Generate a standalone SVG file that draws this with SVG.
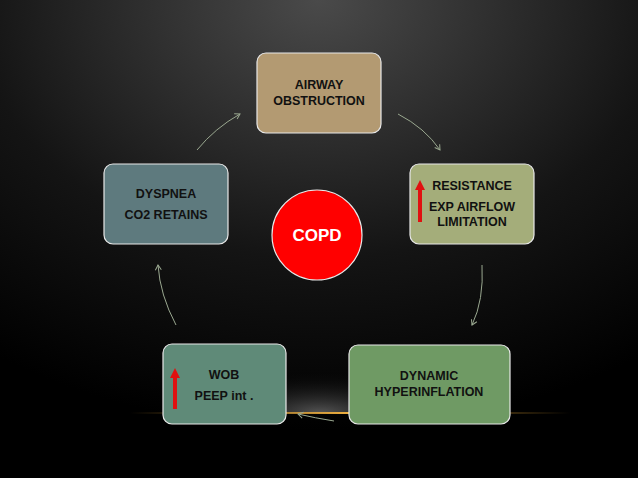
<svg xmlns="http://www.w3.org/2000/svg" width="638" height="478" viewBox="0 0 638 478">
<defs>
<radialGradient id="bg" cx="0.5" cy="0" r="0.9">
<stop offset="0" stop-color="#4a4a4a"/><stop offset="0.6" stop-color="#141414"/><stop offset="1" stop-color="#000"/>
</radialGradient>
<linearGradient id="hl" x1="0" x2="1"><stop offset="0" stop-color="#c8902a" stop-opacity="0"/><stop offset="0.5" stop-color="#f0b040"/><stop offset="1" stop-color="#c8902a" stop-opacity="0"/></linearGradient>
<radialGradient id="glow" cx="0.5" cy="1" r="0.6"><stop offset="0" stop-color="#555"/><stop offset="1" stop-color="#000" stop-opacity="0"/></radialGradient>
<marker id="ah" markerWidth="8" markerHeight="8" refX="6" refY="4" orient="auto" markerUnits="userSpaceOnUse"><path d="M1,1 L6,4 L1,7" fill="none" stroke="#9aa890" stroke-width="1"/></marker>
</defs>
<style>
.n{stroke:#e8e8e8;stroke-width:1.2}
.t{font-family:"Liberation Sans",Arial,sans-serif;font-weight:bold;font-size:12.5px;fill:#111;text-anchor:middle}
.c{fill:none;stroke:#9aa890;stroke-width:1;marker-end:url(#ah)}
.up{fill:#e01010}
</style>
<rect width="638" height="478" fill="url(#bg)"/>
<rect x="200" y="340" width="240" height="73" fill="url(#glow)"/>
<rect x="130" y="412" width="440" height="2" fill="url(#hl)"/>
<g id="connectors">
<path class="c" d="M197,150 Q215,128 240,114"/>
<path class="c" d="M398,114 Q425,128 440,150"/>
<path class="c" d="M482,265 Q484,300 472,325"/>
<path class="c" d="M334,421 Q315,418 298,414"/>
<path class="c" d="M176,325 Q160,295 158,265"/>
</g>
<g id="airway"><rect class="n" x="257" y="53" width="124" height="80" rx="9" fill="#b39a72"/>
<text class="t" x="319" y="89">AIRWAY</text><text class="t" x="319" y="105">OBSTRUCTION</text></g>
<g id="resistance"><rect class="n" x="410" y="164" width="124" height="80" rx="9" fill="#a4ad7a"/>
<path class="up" d="M418,222 L418,190 L415,190 L420,180 L425,190 L422,190 L422,222 Z"/>
<text class="t" x="472" y="190">RESISTANCE</text><text class="t" x="472" y="211">EXP AIRFLOW</text><text class="t" x="472" y="226">LIMITATION</text></g>
<g id="dynamic"><rect class="n" x="349" y="345" width="161" height="79" rx="9" fill="#6f9a64"/>
<text class="t" x="429" y="380">DYNAMIC</text><text class="t" x="429" y="396">HYPERINFLATION</text></g>
<g id="wob"><rect class="n" x="163" y="344" width="123" height="80" rx="9" fill="#5f8a78"/>
<path class="up" d="M173,409 L173,378 L170,378 L175,368 L180,378 L177,378 L177,409 Z"/>
<text class="t" x="224" y="379">WOB</text><text class="t" x="224" y="400">PEEP int .</text></g>
<g id="dyspnea"><rect class="n" x="104" y="164" width="124" height="80" rx="9" fill="#5e7a7e"/>
<text class="t" x="166" y="198">DYSPNEA</text><text class="t" x="166" y="219">CO2 RETAINS</text></g>
<g id="copd"><circle cx="317" cy="235" r="45" fill="#ff0000" stroke="#e8e8e8" stroke-width="1.2"/>
<text class="t" x="317" y="241" style="fill:#fff;font-size:17px">COPD</text></g>
</svg>
